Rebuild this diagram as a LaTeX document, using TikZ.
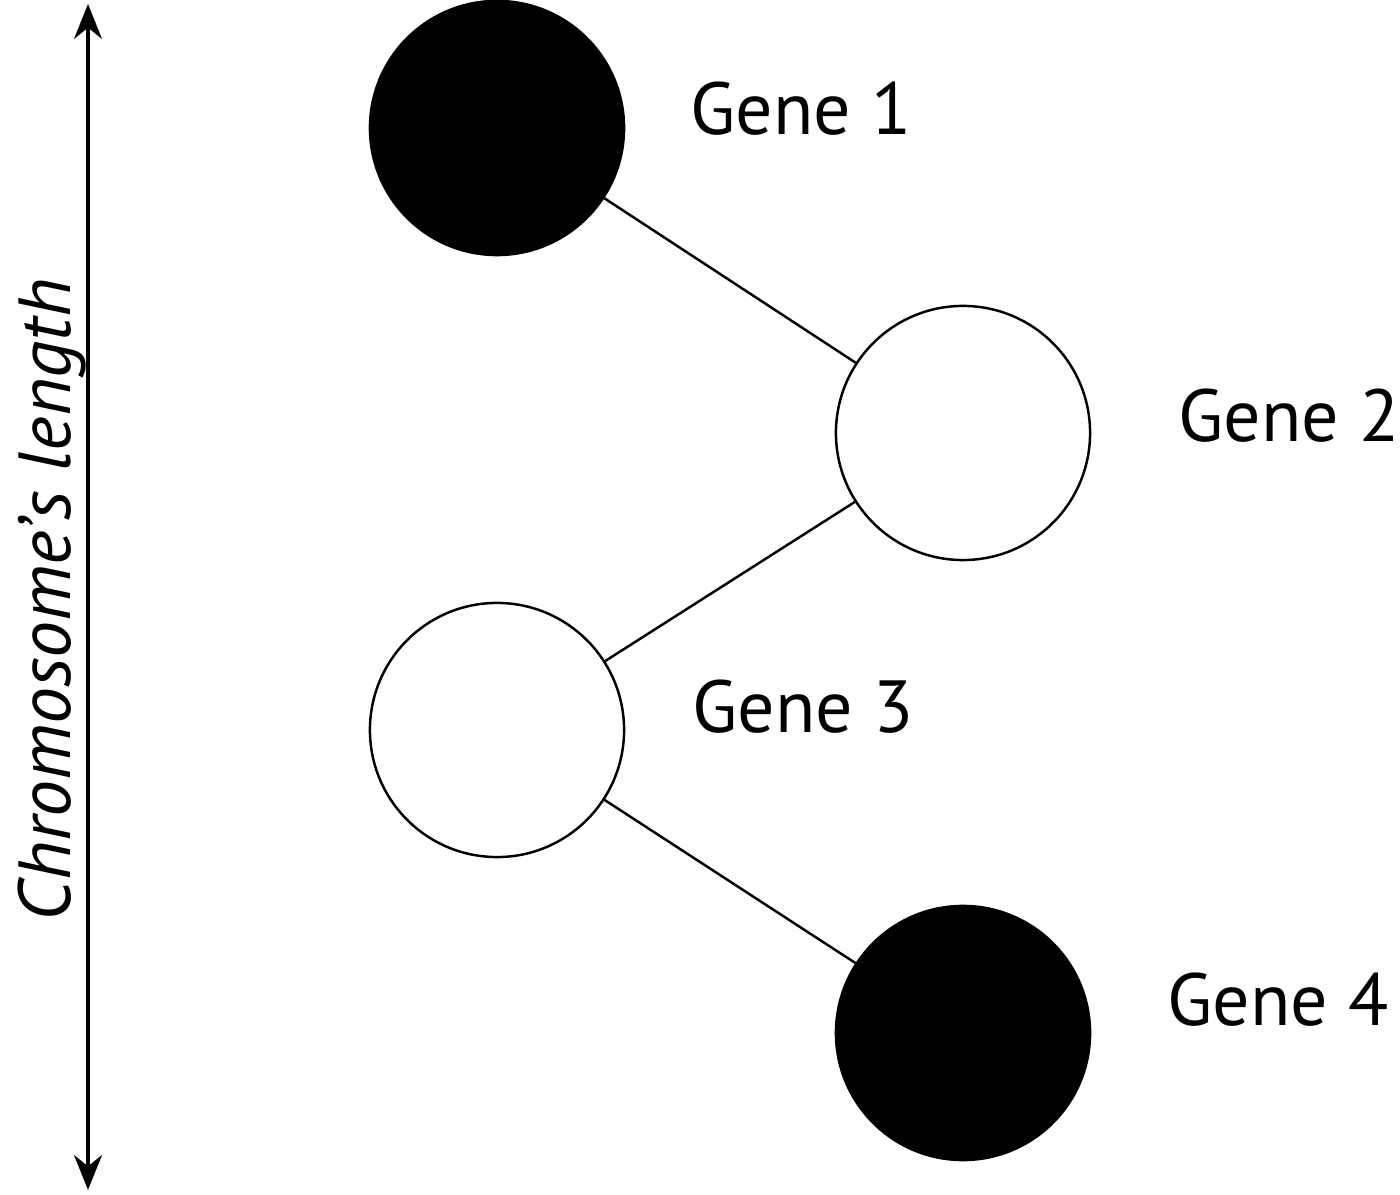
\documentclass[tikz,border=0pt]{standalone}
\usepackage{fontspec}
\setmainfont{PT Sans}
\usetikzlibrary{arrows.meta}
\begin{document}
\begin{tikzpicture}[x=0.01cm,y=-0.01cm,
  gene/.style={circle,draw=black,line width=0.7pt,minimum size=2.54cm,inner sep=0pt},
  filled/.style={gene,fill=black},
  empty/.style={gene,fill=white},
  lbl/.style={anchor=base west,inner sep=0pt,font=\fontsize{21}{25}\selectfont},
  link/.style={line width=0.7pt},
  axis/.style={line width=0.9pt,{Stealth[length=0.35cm,width=0.28cm]}-{Stealth[length=0.35cm,width=0.28cm]}}]
\useasboundingbox (0,0) rectangle (1400,1195);
\coordinate (top) at (88,4);
\coordinate (bot) at (88,1190);
\draw[axis] (top) -- (bot);
\node[rotate=90,anchor=base,inner sep=0pt,font=\fontsize{21}{25}\selectfont\itshape] (axlbl) at (70,600) {Chromosome’s length};
\node[filled] (g1) at (497,128) {};
\node[empty] (g2) at (963,433) {};
\node[empty] (g3) at (497,730) {};
\node[filled] (g4) at (963,1033) {};
\draw[link] (g1) -- (g2);
\draw[link] (g2) -- (g3);
\draw[link] (g3) -- (g4);
\node[lbl] (l1) at (690,135) {Gene 1};
\node[lbl] (l2) at (1178,442) {Gene 2};
\node[lbl] (l3) at (692,733) {Gene 3};
\node[lbl] (l4) at (1167,1025) {Gene 4};
\end{tikzpicture}
\end{document}
